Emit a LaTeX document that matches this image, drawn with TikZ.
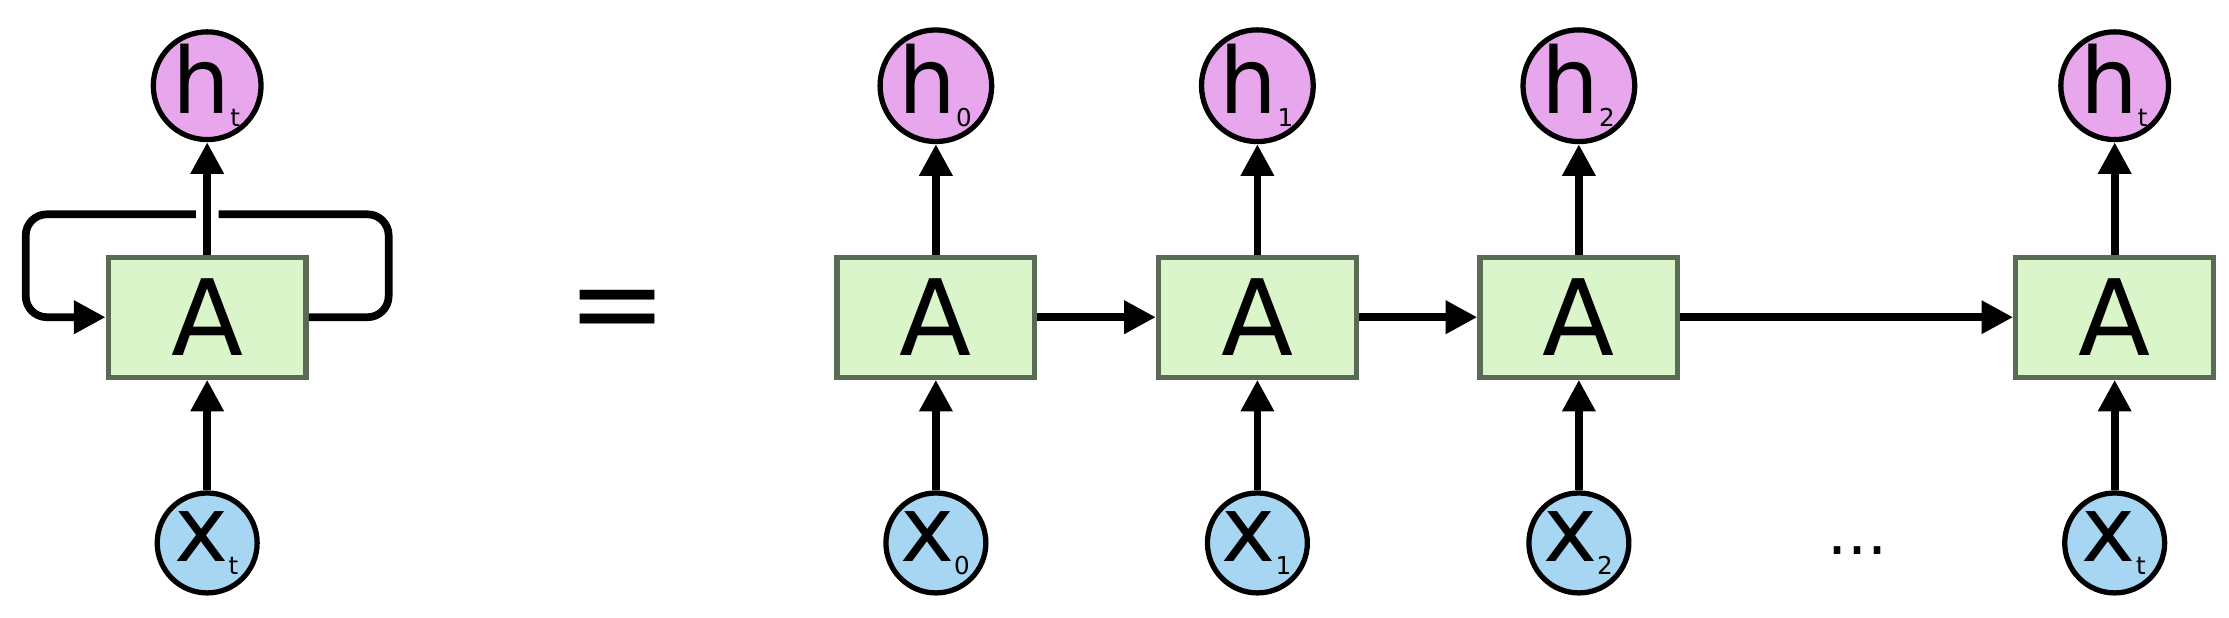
\documentclass[tikz,border=0pt]{standalone}
\usepackage{fontspec}
\setmainfont{DejaVu Sans}
\usetikzlibrary{arrows.meta}
\definecolor{boxfill}{HTML}{D9F5C9}
\definecolor{boxline}{HTML}{5A6B55}
\definecolor{hfill}{HTML}{E8A6EC}
\definecolor{xfill}{HTML}{A6D6F2}
\begin{document}
\begin{tikzpicture}[x=0.01429cm,y=-0.01429cm,
  cell/.style={draw=boxline,line width=1.5pt,fill=boxfill,minimum width=1.98cm,minimum height=1.2cm,inner sep=0pt,font=\fontsize{30}{30}\selectfont},
  hnode/.style={circle,draw=black,line width=1.5pt,fill=hfill,minimum size=1.0cm,inner sep=0pt,font=\fontsize{26}{26}\selectfont},
  xnode/.style={circle,draw=black,line width=1.5pt,fill=xfill,minimum size=1.0cm,inner sep=0pt,font=\fontsize{26}{26}\selectfont},
  arr/.style={-{Triangle[length=9pt,width=9pt]},line width=2.2pt}]
\useasboundingbox (0,0) rectangle (1560,432);
% left folded cell
\node[cell] (A) at (145,222) {A};
\node[hnode] (H) at (145,60) {h\textsubscript{\scriptsize t}};
\node[xnode] (X) at (145,380) {x\textsubscript{\scriptsize t}};
\draw[arr] (X) -- (A);
\coordinate (lr) at (272,222);
\coordinate (ll) at (18,222);
\draw[line width=2.2pt,rounded corners=6pt] (A.east) -- (lr) -- (272,150) -- (153,150);
\draw[arr,rounded corners=6pt] (137,150) -- (18,150) -- (ll) -- (A.west);
\draw[arr] (A) -- (H);
\node[font=\fontsize{34}{34}\selectfont] (eq) at (432,222) {=};
% unrolled
\foreach \i/\x/\s in {0/655/0,1/880/1,2/1105/2,3/1480/t}{
  \node[cell] (A\i) at (\x,222) {A};
  \node[hnode] (H\i) at (\x,60) {h\textsubscript{\scriptsize \s}};
  \node[xnode] (X\i) at (\x,380) {x\textsubscript{\scriptsize \s}};
  \draw[arr] (X\i) -- (A\i);
  \draw[arr] (A\i) -- (H\i);
}
\draw[arr] (A0) -- (A1);
\draw[arr] (A1) -- (A2);
\draw[arr] (A2) -- (A3);
\node[font=\fontsize{18}{18}\selectfont] (dots) at (1300,385) {...};
\end{tikzpicture}
\end{document}
